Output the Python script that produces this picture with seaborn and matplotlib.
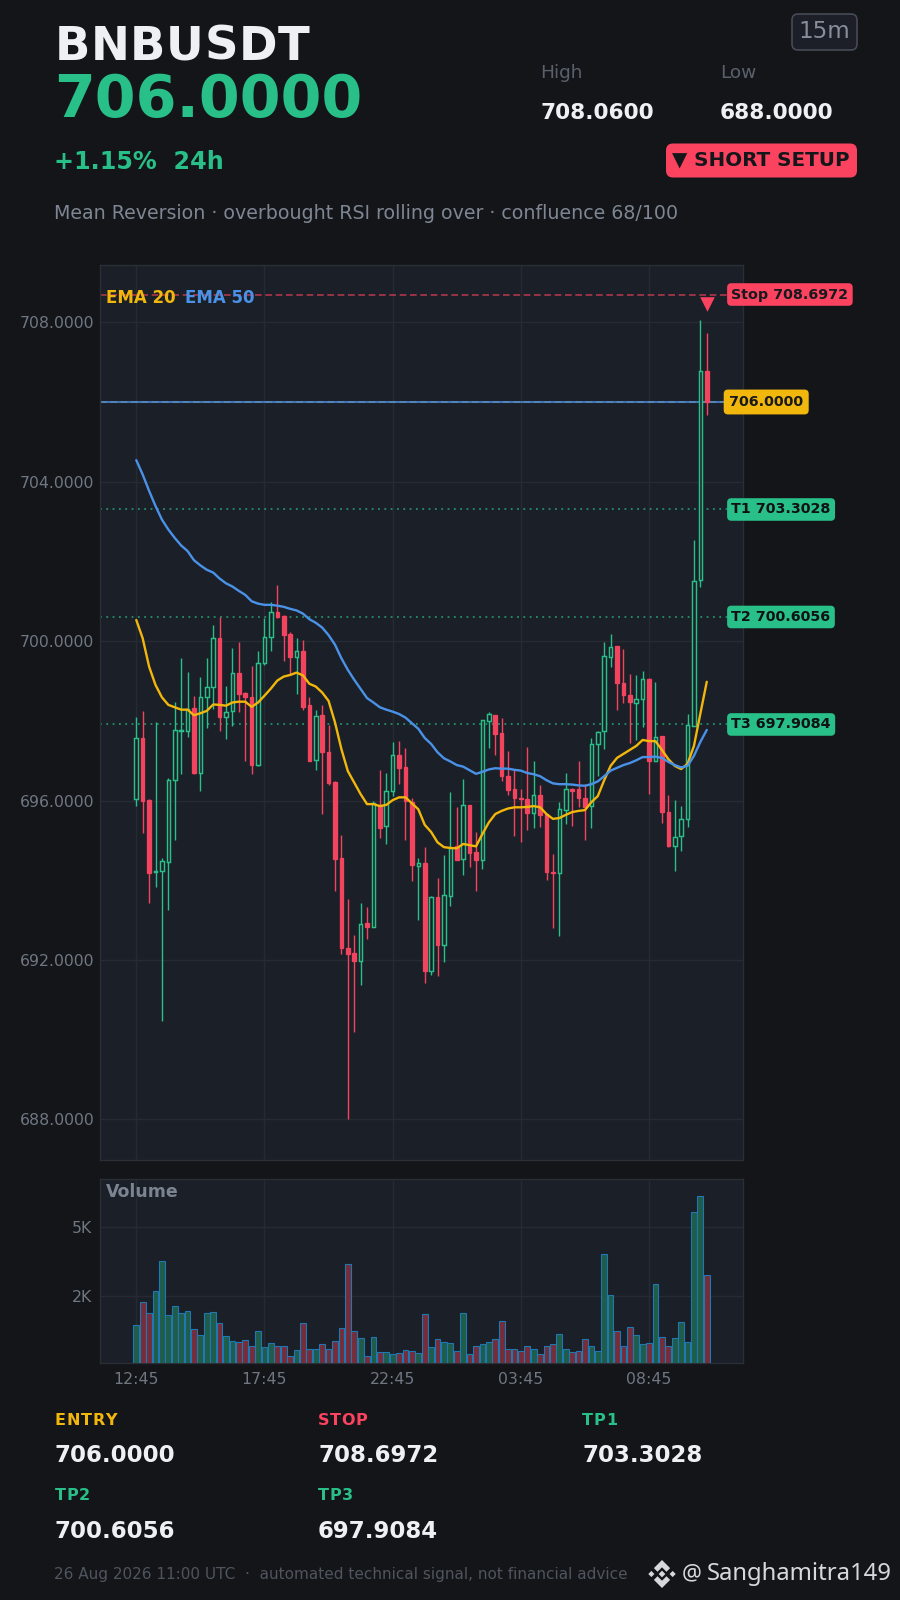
"""
BNBUSDT 15m short setup card
"""
import numpy as np
import pandas as pd
import matplotlib
matplotlib.use('Agg')
import matplotlib.pyplot as plt
from matplotlib.patches import FancyBboxPatch, Polygon
import seaborn as sns

# Candles
opens = [696.03, 697.56, 696.02, 694.20, 694.22, 694.47, 696.51, 697.74, 697.75, 698.31,
         696.68, 698.59, 698.86, 700.07, 698.10, 698.24, 699.21, 698.69, 698.59, 696.88,
         699.44, 700.11, 700.72, 700.63, 700.18, 699.61, 699.75, 698.39, 697.02, 698.14,
         697.23, 696.46, 694.55, 692.30, 692.17, 691.98, 692.92, 692.83, 695.89, 695.35,
         696.24, 697.13, 696.83, 695.97, 694.36, 694.44, 691.73, 693.59, 692.38, 693.61,
         694.86, 694.53, 695.88, 694.70, 694.51, 698.00, 698.14, 697.69, 696.61, 696.29,
         696.06, 696.03, 695.68, 696.13, 695.66, 694.20, 694.17, 695.76, 696.30, 696.29,
         696.06, 695.86, 697.41, 697.75, 699.61, 699.87, 698.96, 698.66, 698.44, 698.56,
         699.06, 696.99, 697.61, 695.71, 694.85, 695.10, 695.53, 697.87, 701.53, 706.79]
highs = [698.10, 698.25, 696.05, 697.98, 694.57, 696.56, 698.48, 699.58, 699.23, 698.63,
         699.11, 699.58, 700.40, 700.61, 698.88, 699.82, 699.98, 698.72, 699.37, 699.76,
         700.59, 700.99, 701.40, 700.65, 700.23, 700.07, 700.03, 698.60, 698.27, 698.39,
         697.90, 696.49, 695.13, 693.53, 692.63, 693.44, 693.33, 695.99, 696.77, 696.70,
         697.47, 697.50, 697.32, 696.07, 694.57, 694.84, 693.61, 694.06, 694.64, 696.22,
         695.84, 696.54, 695.89, 695.21, 698.02, 698.23, 698.15, 698.06, 697.25, 696.77,
         696.28, 697.35, 696.99, 696.39, 695.67, 694.65, 695.96, 696.69, 696.31, 696.99,
         696.41, 697.57, 697.74, 699.99, 700.17, 699.88, 699.79, 699.18, 699.16, 699.25,
         699.07, 698.98, 697.62, 696.14, 696.01, 695.86, 698.16, 702.54, 708.06, 707.72]
lows = [695.87, 695.18, 693.43, 693.83, 690.48, 693.26, 695.00, 696.66, 697.60, 696.66,
        696.23, 697.81, 698.29, 697.75, 697.54, 697.87, 698.21, 696.98, 696.66, 696.86,
        699.40, 699.75, 700.57, 699.50, 699.15, 698.67, 698.27, 696.98, 696.76, 695.66,
        696.38, 693.72, 692.16, 688.00, 690.20, 691.37, 692.52, 692.82, 695.05, 694.92,
        696.12, 696.41, 695.02, 693.97, 693.01, 691.41, 691.62, 691.59, 691.94, 693.36,
        694.50, 694.14, 694.34, 693.74, 694.29, 697.32, 697.15, 696.49, 696.14, 695.10,
        694.97, 695.25, 695.30, 695.33, 694.00, 692.80, 692.60, 695.41, 695.35, 695.84,
        695.00, 695.30, 696.61, 697.29, 699.36, 698.28, 698.45, 697.45, 697.52, 697.84,
        696.16, 696.98, 695.44, 694.84, 694.23, 694.73, 695.33, 697.86, 701.35, 705.68]
closes = [697.56, 696.00, 694.17, 694.22, 694.47, 696.51, 697.76, 697.76, 698.29, 696.68,
          698.59, 698.86, 700.07, 698.10, 698.21, 699.19, 698.68, 698.60, 696.88, 699.44,
          700.11, 700.72, 700.61, 700.16, 699.61, 699.74, 698.35, 697.00, 698.11, 697.22,
          696.43, 694.53, 692.30, 692.15, 691.98, 692.91, 692.82, 695.95, 695.31, 696.25,
          697.13, 696.82, 695.99, 694.39, 694.42, 691.72, 693.59, 692.38, 693.62, 694.82,
          694.51, 695.88, 694.69, 694.51, 698.01, 698.17, 697.67, 696.61, 696.26, 696.06,
          696.03, 695.68, 696.13, 695.64, 694.20, 694.17, 695.78, 696.30, 696.24, 696.06,
          695.84, 697.41, 697.73, 699.62, 699.84, 698.96, 698.66, 698.46, 698.56, 699.06,
          696.99, 697.60, 695.70, 694.85, 695.09, 695.53, 697.89, 701.52, 706.79, 706.00]

ema20 = [700.53, 700.07, 699.36, 698.90, 698.59, 698.40, 698.34, 698.28, 698.28, 698.14,
         698.19, 698.25, 698.41, 698.40, 698.38, 698.46, 698.48, 698.48, 698.35, 698.46,
         698.63, 698.81, 699.01, 699.11, 699.15, 699.21, 699.14, 698.93, 698.86, 698.71,
         698.50, 697.96, 697.29, 696.74, 696.45, 696.16, 695.91, 695.91, 695.86, 695.89,
         696.01, 696.08, 696.08, 695.93, 695.78, 695.39, 695.21, 694.95, 694.83, 694.81,
         694.80, 694.91, 694.88, 694.85, 695.16, 695.45, 695.66, 695.74, 695.80, 695.83,
         695.83, 695.84, 695.86, 695.83, 695.66, 695.54, 695.56, 695.64, 695.71, 695.74,
         695.76, 695.96, 696.11, 696.51, 696.87, 697.07, 697.17, 697.27, 697.37, 697.52,
         697.49, 697.49, 697.27, 697.04, 696.87, 696.79, 696.92, 697.37, 698.18, 698.98]
ema50 = [704.54, 704.18, 703.77, 703.39, 703.05, 702.80, 702.59, 702.40, 702.26, 702.03,
         701.90, 701.79, 701.72, 701.57, 701.45, 701.37, 701.26, 701.16, 701.00, 700.94,
         700.91, 700.91, 700.89, 700.86, 700.81, 700.77, 700.69, 700.55, 700.46, 700.34,
         700.15, 699.91, 699.57, 699.28, 699.03, 698.80, 698.57, 698.46, 698.34, 698.28,
         698.23, 698.17, 698.08, 697.94, 697.80, 697.57, 697.42, 697.21, 697.06, 696.98,
         696.89, 696.85, 696.76, 696.67, 696.72, 696.78, 696.81, 696.80, 696.80, 696.77,
         696.75, 696.69, 696.66, 696.61, 696.51, 696.43, 696.41, 696.41, 696.40, 696.38,
         696.37, 696.41, 696.48, 696.61, 696.75, 696.82, 696.89, 696.94, 697.01, 697.09,
         697.09, 697.10, 697.07, 696.97, 696.89, 696.83, 696.87, 697.12, 697.47, 697.77]

volumes = [1352, 1838, 1587, 2128, 3176, 1545, 1742, 1587, 1630, 1282,
           1183, 1587, 1608, 1388, 1168, 1092, 1078, 1107, 1021, 1248,
           1008, 1063, 1021, 1021, 894, 969, 1388, 981, 981, 1049,
           981, 1092, 1299, 3052, 1248, 1137, 894, 1152, 943, 943,
           919, 931, 969, 956, 931, 1566, 1008, 1122, 1078, 1063,
           956, 1587, 919, 1021, 1049, 1078, 1122, 1426, 981, 981,
           956, 1021, 981, 919, 1021, 1049, 1199, 981, 943, 956,
           1122, 1021, 956, 3488, 2018, 1248, 1021, 1316, 1183, 1049,
           1063, 2337, 1152, 1021, 1137, 1408, 1078, 6108, 7560, 2635]

price_ticks = [688, 692, 696, 700, 704, 708]
vol_ticks = [2000, 5000]
vol_tick_labels = ['2K', '5K']
time_ticks = [0, 20, 40, 60, 80]
time_labels = ['12:45', '17:45', '22:45', '03:45', '08:45']

stop_price = 708.6972
entry_price = 706.0
targets = [703.3028, 700.6056, 697.9084]
target_names = ['T1 703.3028', 'T2 700.6056', 'T3 697.9084']

# Colours
BG = '#131518'
PANEL = '#1b1f27'
GRID = '#262a32'
GREEN = '#28c088'
RED = '#fb4360'
CANDLE_RED = '#f2435f'
AMBER = '#f2b70c'
BLUE = '#4a92e8'
WHITE = '#eef0f4'

sns.set_theme(style='dark', rc={'axes.facecolor': PANEL, 'figure.facecolor': BG})
plt.rcParams['font.family'] = ['DejaVu Sans']

W, H = 900, 1600
fig = plt.figure(figsize=(W / 100, H / 100), dpi=100, facecolor=BG)


def px_axes(left, top, right, bottom):
    return fig.add_axes([left / W, 1 - bottom / H, (right - left) / W, (bottom - top) / H])


df = pd.DataFrame({'i': np.arange(len(closes)), 'open': opens, 'high': highs, 'low': lows,
                   'close': closes, 'ema20': ema20, 'ema50': ema50, 'volume': volumes})
df['up'] = df['close'] >= df['open']

# Price panel
ax = px_axes(100, 264.5, 743.3, 1160)
ax.set_facecolor(PANEL)
ax.vlines(df['i'], df['low'], df['high'], colors=np.where(df['up'], GREEN, CANDLE_RED), linewidth=1.0, zorder=3)
body_low = df[['open', 'close']].min(axis=1)
body_h = (df['close'] - df['open']).abs()
ax.bar(df['i'][df['up']], body_h[df['up']], bottom=body_low[df['up']], width=0.56,
       facecolor=PANEL, edgecolor=GREEN, linewidth=1.05, zorder=4)
ax.bar(df['i'][~df['up']], body_h[~df['up']], bottom=body_low[~df['up']], width=0.56,
       facecolor=CANDLE_RED, edgecolor=CANDLE_RED, linewidth=0.95, zorder=4)

ax.axhline(stop_price, color=RED, linestyle=(0, (4, 2.2)), linewidth=1.2, alpha=0.65, zorder=2)
ax.axhline(entry_price, color=AMBER, linestyle=(0, (4, 2.2)), linewidth=1.2, alpha=0.5, zorder=2)
ax.axhline(entry_price, color=BLUE, linewidth=1.5, alpha=0.75, zorder=2)
for t in targets:
    ax.axhline(t, color=GREEN, linestyle=(0, (1, 2.5)), linewidth=1.3, alpha=0.7, zorder=2)

sns.lineplot(data=df, x='i', y='ema20', color=AMBER, linewidth=1.7, ax=ax, zorder=5)
sns.lineplot(data=df, x='i', y='ema50', color=BLUE, linewidth=1.7, ax=ax, zorder=5)
sns.scatterplot(x=[df['i'].iloc[-1]], y=[708.45], marker='v', s=110, color=RED, linewidth=0, ax=ax, zorder=6)

ax.set_xlim(-5.66, 94.7)
ax.set_ylim(686.98, 709.45)
ax.set_xticks(time_ticks)
ax.set_xticklabels([])
ax.set_yticks(price_ticks)
ax.set_yticklabels([f'{p:.4f}' for p in price_ticks])
ax.set_xlabel('')
ax.set_ylabel('')
ax.grid(True, color=GRID, linewidth=1)
ax.set_axisbelow(True)
ax.tick_params(axis='both', length=0, labelsize=11.3, labelcolor='#6f7783', pad=4)
for s in ax.spines.values():
    s.set_color('#2a2e36')
    s.set_linewidth(1)

ax.text(6 / 643.3, 0.9625, 'EMA 20', transform=ax.transAxes, color=AMBER, fontsize=12,
        fontweight='bold', va='center', zorder=7)
ax.text(85 / 643.3, 0.9625, 'EMA 50', transform=ax.transAxes, color=BLUE, fontsize=12,
        fontweight='bold', va='center', zorder=7)

# Level labels hanging off the right edge
tag = ax.get_yaxis_transform()
ax.text(0.9815, stop_price, 'Stop 708.6972', transform=tag, color='#17191d', fontsize=10.3,
        fontweight='bold', va='center', clip_on=False, zorder=8,
        bbox=dict(boxstyle='round,pad=0.3,rounding_size=0.3', fc=RED, ec='none'))
ax.text(0.978, entry_price, '706.0000', transform=tag, color='#17191d', fontsize=10.3,
        fontweight='bold', va='center', clip_on=False, zorder=8,
        bbox=dict(boxstyle='round,pad=0.38,rounding_size=0.3', fc=AMBER, ec='none'))
for t, name in zip(targets, target_names):
    ax.text(0.9815, t, name, transform=tag, color='#0f1114', fontsize=10.3, fontweight='bold',
            va='center', clip_on=False, zorder=8,
            bbox=dict(boxstyle='round,pad=0.3,rounding_size=0.3', fc=GREEN, ec='none'))

# Volume panel
vax = px_axes(100, 1179, 743.3, 1363.3)
vax.set_facecolor(PANEL)
sns.barplot(data=df, x='i', y='volume', hue='up', hue_order=[True, False],
            palette={True: '#1f5c4a', False: '#762d3a'}, native_scale=True, dodge=False,
            width=0.9, saturation=1, edgecolor='#1f77b4', linewidth=0.8,
            legend=False, ax=vax, zorder=3)
vax.set_yscale('log')
vax.set_xlim(-5.66, 94.7)
vax.set_ylim(810, 9500)
vax.set_xticks(time_ticks)
vax.set_xticklabels(time_labels)
vax.set_yticks(vol_ticks)
vax.set_yticklabels(vol_tick_labels)
vax.minorticks_off()
vax.set_xlabel('')
vax.set_ylabel('')
vax.grid(True, color=GRID, linewidth=1)
vax.set_axisbelow(True)
vax.tick_params(axis='both', length=0, labelsize=11.3, labelcolor='#6f7783', pad=6)
for s in vax.spines.values():
    s.set_color('#2a2e36')
    s.set_linewidth(1)
vax.text(6 / 643.3, 0.93, 'Volume', transform=vax.transAxes, color='#7c8492', fontsize=12.5,
         fontweight='bold', va='center', zorder=7)

# Overlay in pixel coordinates for the header and the footer
ov = fig.add_axes([0, 0, 1, 1], zorder=-1)
ov.set_xlim(0, W)
ov.set_ylim(H, 0)
ov.axis('off')
renderer = fig.canvas.get_renderer()


def txt(x, y, s, size, color, weight='normal', ha='left', va='baseline', **kw):
    return ov.text(x, y, s, fontsize=size, color=color, fontweight=weight, ha=ha, va=va, **kw)


def spaced(x, y, s, size, color, gap, weight='bold', va='baseline'):
    # letter-spaced text, one glyph at a time
    for k, ch in enumerate(s):
        probe = txt(0, 0, s[:k] + '|', size, color, weight)
        bar = txt(0, 0, '|', size, color, weight)
        adv = probe.get_window_extent(renderer).width - bar.get_window_extent(renderer).width
        probe.remove()
        bar.remove()
        txt(x + adv + gap * k, y, ch, size, color, weight, va=va)


spaced(54.5, 59.5, 'BNBUSDT', 33.5, WHITE, 0.6)
txt(54.5, 116.5, '706.0000', 42.3, GREEN, 'bold')
txt(54.5, 169, '+1.15%  24h', 17.2, GREEN, 'bold')
txt(54.5, 219, 'Mean Reversion · overbought RSI rolling over · confluence 68/100', 13.65, '#7e8693')

txt(540, 78, 'High', 13.3, '#5a616c')
txt(720, 78, 'Low', 13.3, '#5a616c')
txt(540, 119, '708.0600', 15.6, WHITE, 'bold')
txt(720, 119, '688.0000', 15.6, WHITE, 'bold')

ov.add_patch(FancyBboxPatch((795, 17), 59, 30, boxstyle='round,pad=3,rounding_size=6',
                            fc='#1c1f27', ec='#454b55', lw=1.2))
txt(824.5, 32, '15m', 16.5, '#868e9b', ha='center', va='center')

ov.add_patch(FancyBboxPatch((669, 146.5), 185, 28, boxstyle='round,pad=3,rounding_size=7',
                            fc=RED, ec='none'))
txt(761, 160, '▼ SHORT SETUP', 14.3, '#14161a', 'bold', ha='center', va='center')

# Trade plan
plan = [(55, 1420, 'ENTRY', '706.0000', AMBER), (318, 1420, 'STOP', '708.6972', RED),
        (582, 1420, 'TP1', '703.3028', GREEN), (55, 1495, 'TP2', '700.6056', GREEN),
        (318, 1495, 'TP3', '697.9084', GREEN)]
for x, y, name, value, col in plan:
    spaced(x, y + 5, name, 11.5, col, 0.5)
    txt(x, y + 36, value, 16.5, WHITE, 'bold', va='center')

txt(54.5, 1574, '26 Aug 2026 11:00 UTC  ·  automated technical signal, not financial advice',
    11, '#4f555f', va='center')

# Exchange mark next to the handle
cx, cy, r = 662, 1574, 14
LOGO = '#d6d8dc'
chevron = [(0, -1), (0.58, -0.42), (0.32, -0.16), (0, -0.48), (-0.32, -0.16), (-0.58, -0.42)]
for sign in (1, -1):
    ov.add_patch(Polygon([(cx + px * r, cy + sign * py * r) for px, py in chevron], fc=LOGO, ec='none'))
for ox, d in ((-0.76, 0.22), (0.76, 0.22), (0, 0.24)):
    ov.add_patch(Polygon([(cx + (ox + d) * r, cy), (cx + ox * r, cy - d * r),
                          (cx + (ox - d) * r, cy), (cx + ox * r, cy + d * r)], fc=LOGO, ec='none'))
txt(682, 1574, '@', 16, LOGO, va='center', family='Noto Sans')
txt(707, 1574, 'Sanghamitra149', 17.2, LOGO, va='center', family='Noto Sans')

plt.savefig('out.png', dpi=100, facecolor=BG)
plt.close()
